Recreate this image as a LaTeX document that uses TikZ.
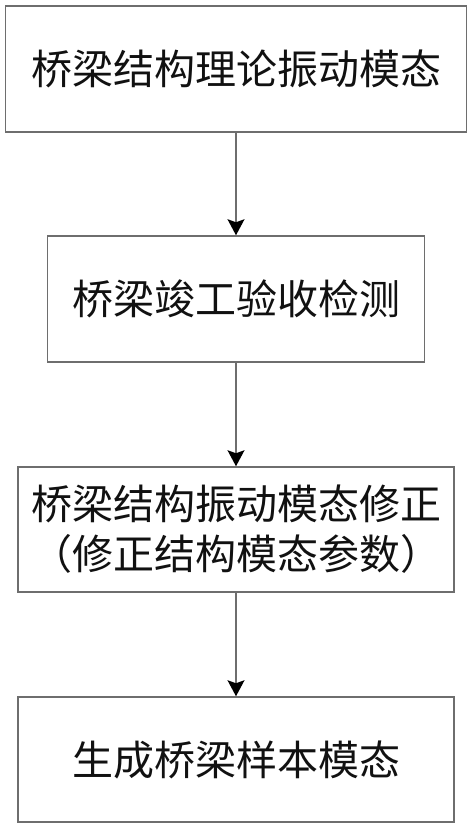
\documentclass[tikz,border=0pt]{standalone}
\usepackage{fontspec}
\usepackage{xcolor}
\usepackage{tikz}
\usetikzlibrary{arrows.meta, positioning}
\newfontfamily\cjk{Noto Sans CJK SC}
\definecolor{Frame}{HTML}{6E6E6E}
\definecolor{Ink}{HTML}{111111}

\begin{document}
\begin{tikzpicture}[
  x=1pt, y=-1pt,
  font=\cjk\fontsize{41pt}{50pt}\selectfont,
  stage/.style={draw=Frame, line width=1.5pt, fill=white, align=center, inner sep=0pt, minimum height=126pt, text=Ink},
  arrow/.style={-{Stealth[length=16pt, width=17pt, inset=3pt, color=black]}, line width=1.4pt, draw=Frame}
]
\useasboundingbox (0,0) rectangle (474,827);

\node[stage, minimum width=461pt] (theory) at (236,69) {桥梁结构理论振动模态};
\node[stage, minimum width=377pt] (accept) at (236,299) {桥梁竣工验收检测};
\node[stage, minimum width=436pt, minimum height=125pt] (update) at (236,529.5) {桥梁结构振动模态修正\\（修正结构模态参数）};
\node[stage, minimum width=436pt, minimum height=125pt] (sample) at (236,759.5) {生成桥梁样本模态};

\draw[arrow] (theory) -- (accept);
\draw[arrow] (accept) -- (update);
\draw[arrow] (update) -- (sample);
\end{tikzpicture}
\end{document}
